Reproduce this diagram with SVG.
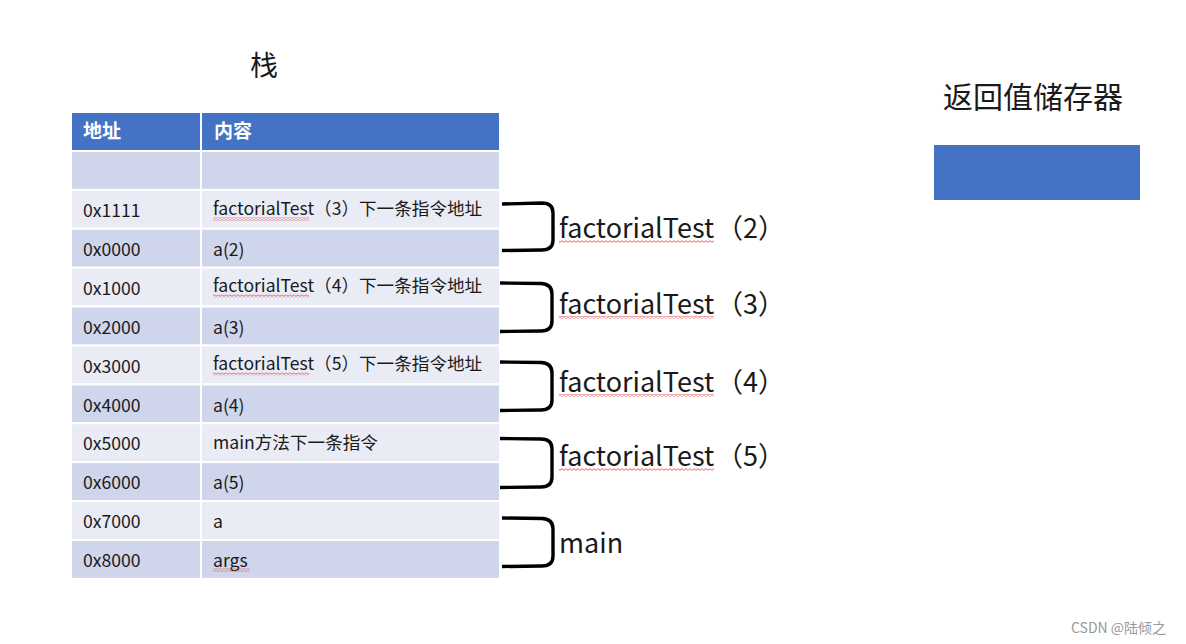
<svg xmlns="http://www.w3.org/2000/svg" width="1186" height="644" viewBox="0 0 1186 644">
<style>
text{font-family:"Noto Sans CJK SC","Noto Sans",sans-serif;fill:#1a1a1a}
.hd{fill:#4472C4;stroke:#fff;stroke-width:2}
.dk{fill:#CFD5EA;stroke:#fff;stroke-width:2}
.lt{fill:#E9EBF5;stroke:#fff;stroke-width:2}
.ht{fill:#fff;font-weight:bold;font-size:19px}
.ct{font-size:17.6px}
.br{fill:none;stroke:#000;stroke-width:3.4;stroke-linejoin:round}
.lb{font-size:27px}
.sq{fill:url(#wave)}
</style>
<defs>
<pattern id="wave" width="4" height="3" patternUnits="userSpaceOnUse">
<polyline points="0,2.4 2,0.6 4,2.4" fill="none" stroke="#e23a3a" stroke-width="0.8"/>
</pattern>
</defs>
<rect width="1186" height="644" fill="#fff"/>
<text x="250" y="76" font-size="28">栈</text>
<g id="table">
<rect class="hd" x="71" y="112" width="130" height="39"/>
<rect class="hd" x="201" y="112" width="299" height="39"/>
<text class="ht" x="83" y="138">地址</text>
<text class="ht" x="214" y="138">内容</text>
<g id="row0"><rect class="dk" x="71" y="151" width="130" height="38.9"/><rect class="dk" x="201" y="151" width="299" height="38.9"/></g>
<g id="row1"><rect class="lt" x="71" y="189.9" width="130" height="38.9"/><rect class="lt" x="201" y="189.9" width="299" height="38.9"/><text class="ct" x="83" y="217">0x1111</text><text class="ct" x="213" y="215">factorialTest（3）下一条指令地址</text><rect class="sq" x="213" y="217.5" width="96" height="3"/></g>
<g id="row2"><rect class="dk" x="71" y="228.8" width="130" height="38.9"/><rect class="dk" x="201" y="228.8" width="299" height="38.9"/><text class="ct" x="83" y="255.5">0x0000</text><text class="ct" x="213" y="255.5">a(2)</text></g>
<g id="row3"><rect class="lt" x="71" y="267.7" width="130" height="38.9"/><rect class="lt" x="201" y="267.7" width="299" height="38.9"/><text class="ct" x="83" y="294.5">0x1000</text><text class="ct" x="213" y="292">factorialTest（4）下一条指令地址</text><rect class="sq" x="213" y="294.5" width="96" height="3"/></g>
<g id="row4"><rect class="dk" x="71" y="306.6" width="130" height="38.9"/><rect class="dk" x="201" y="306.6" width="299" height="38.9"/><text class="ct" x="83" y="333.5">0x2000</text><text class="ct" x="213" y="333.5">a(3)</text></g>
<g id="row5"><rect class="lt" x="71" y="345.5" width="130" height="38.9"/><rect class="lt" x="201" y="345.5" width="299" height="38.9"/><text class="ct" x="83" y="372.5">0x3000</text><text class="ct" x="213" y="370">factorialTest（5）下一条指令地址</text><rect class="sq" x="213" y="372.5" width="96" height="3"/></g>
<g id="row6"><rect class="dk" x="71" y="384.4" width="130" height="38.9"/><rect class="dk" x="201" y="384.4" width="299" height="38.9"/><text class="ct" x="83" y="411.5">0x4000</text><text class="ct" x="213" y="411.5">a(4)</text></g>
<g id="row7"><rect class="lt" x="71" y="423.3" width="130" height="38.9"/><rect class="lt" x="201" y="423.3" width="299" height="38.9"/><text class="ct" x="83" y="450">0x5000</text><text class="ct" x="213" y="449">main方法下一条指令</text></g>
<g id="row8"><rect class="dk" x="71" y="462.2" width="130" height="38.9"/><rect class="dk" x="201" y="462.2" width="299" height="38.9"/><text class="ct" x="83" y="489">0x6000</text><text class="ct" x="213" y="489">a(5)</text></g>
<g id="row9"><rect class="lt" x="71" y="501.1" width="130" height="38.9"/><rect class="lt" x="201" y="501.1" width="299" height="38.9"/><text class="ct" x="83" y="528">0x7000</text><text class="ct" x="213" y="528">a</text></g>
<g id="row10"><rect class="dk" x="71" y="540" width="130" height="38.9"/><rect class="dk" x="201" y="540" width="299" height="38.9"/><text class="ct" x="83" y="567">0x8000</text><text class="ct" x="213" y="567">args</text><rect class="sq" x="213" y="568.5" width="37" height="3"/></g>
</g>
<g id="connectors">
<path class="br" d="M502,204 L542,203 Q553,203 553,213 V240 Q553,250 542,250 L502,250.5"/>
<path class="br" d="M500,283 L541,283.5 Q552,284 552,294 V321 Q552,331 541,331 L500,331.5"/>
<path class="br" d="M500,362 L541,362.5 Q552,363 552,373 V400 Q552,410 541,410 L500,410.5"/>
<path class="br" d="M500,438.5 L541,439 Q552,439 552,449 V477 Q552,487 541,487 L500,487.5"/>
<path class="br" d="M502,518 L542,518.5 Q553,519 553,529 V556 Q553,566 542,566 L502,566.5"/>
</g>
<g id="labels">
<text class="lb" x="559" y="238">factorialTest<tspan x="716">（2）</tspan></text>
<rect class="sq" x="559" y="240" width="155" height="3"/>
<text class="lb" x="559" y="314">factorialTest<tspan x="716">（3）</tspan></text>
<rect class="sq" x="559" y="316" width="155" height="3"/>
<text class="lb" x="559" y="392">factorialTest<tspan x="716">（4）</tspan></text>
<rect class="sq" x="559" y="394" width="155" height="3"/>
<text class="lb" x="559" y="466">factorialTest<tspan x="716">（5）</tspan></text>
<rect class="sq" x="559" y="468" width="155" height="3"/>
<text class="lb" x="559" y="553">main</text>
</g>
<g id="register">
<text x="943" y="108" font-size="30">返回值储存器</text>
<rect x="934" y="145" width="206" height="55" fill="#4472C4"/>
</g>
<text x="1071" y="633" font-size="14" style="fill:#999">CSDN @陆倾之</text>
</svg>
